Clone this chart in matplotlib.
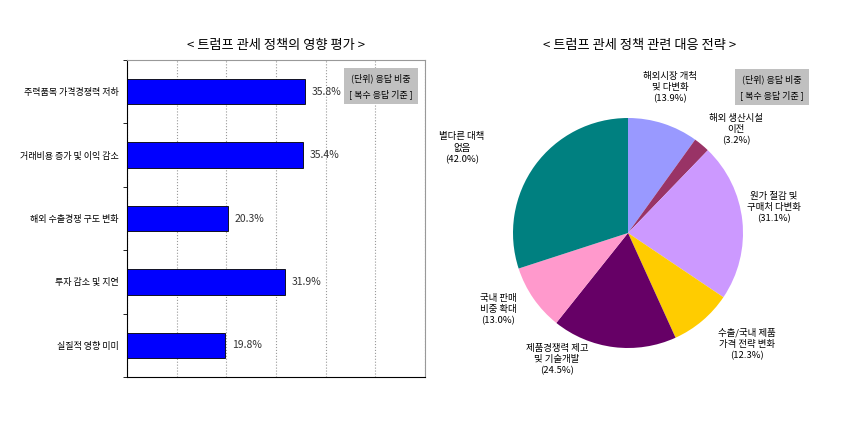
import matplotlib.pyplot as plt
import numpy as np

plt.rcParams["font.family"] = "Noto Sans CJK KR"

# left: impact of tariff policy
impact_labels = ["주력품목 가격경쟁력 저하", "거래비용 증가 및 이익 감소", "해외 수출경쟁 구도 변화",
                 "투자 감소 및 지연", "실질적 영향 미미"]
impact_values = [35.8, 35.4, 20.3, 31.9, 19.8]

# right: response strategies (multiple responses)
strategy_labels = ["해외시장 개척\n및 다변화", "해외 생산시설\n이전", "원가 절감 및\n구매처 다변화",
                   "수출/국내 제품\n가격 전략 변화", "제품경쟁력 제고\n및 기술개발", "국내 판매\n비중 확대",
                   "별다른 대책\n없음"]
strategy_values = [13.9, 3.2, 31.1, 12.3, 24.5, 13.0, 42.0]
strategy_colors = ["#9999FF", "#993366", "#CC99FF", "#FFCC00", "#660066", "#FF99CC", "#008080"]

fig = plt.figure(figsize=(8.53, 4.24), dpi=100)

ax = fig.add_axes([127/853, 47/424, 298/853, 317/424])
y = np.arange(len(impact_values))
ax.barh(y, impact_values, height=0.4, color="#0000FF", edgecolor="black", linewidth=0.6, zorder=3)
for yi, v in zip(y, impact_values):
    ax.text(v + 1.3, yi, f"{v}%", va="center", fontsize=7.5, color="#333333")
ax.set_yticks(y)
ax.set_yticklabels(impact_labels, fontsize=6.5)
ax.set_ylim(4.5, -0.5)
ax.set_yticks(np.arange(-0.5, 5, 1), minor=True)
ax.tick_params(axis="y", which="major", length=0, pad=6)
ax.tick_params(axis="y", which="minor", length=3)
ax.set_xlim(0, 60)
ax.set_xticks(np.arange(0, 61, 10))
ax.set_xticklabels([])
ax.tick_params(axis="x", length=0)
ax.grid(axis="x", linestyle=":", color="#999999", linewidth=0.8, zorder=0)
for s in ["top", "right"]:
    ax.spines[s].set_color("#999999")
ax.text(0.852, 0.918, "(단위) 응답 비중\n[ 복수 응답 기준 ]", transform=ax.transAxes, ha="center",
        va="center", fontsize=6.5, linespacing=1.8,
        bbox=dict(boxstyle="square,pad=0.6", fc="#C0C0C0", ec="none"))
fig.text(276/853, 1 - 46/424, "< 트럼프 관세 정책의 영향 평가 >", ha="center", va="center", fontsize=9.5)

pax = fig.add_axes([513/853, (424-348)/424, 230/853, 230/424])
pax.pie(strategy_values, colors=strategy_colors, startangle=90, counterclock=False, radius=1.0)
pax.set_xlim(-1, 1)
pax.set_ylim(-1, 1)
pax.set_aspect("equal")
fig.text(640/853, 1 - 46/424, "< 트럼프 관세 정책 관련 대응 전략 >", ha="center", va="center", fontsize=9.5)
fig.text(772/853, 1 - 87/424, "(단위) 응답 비중\n[ 복수 응답 기준 ]", ha="center", va="center",
         fontsize=6.5, linespacing=1.8, bbox=dict(boxstyle="square,pad=0.6", fc="#C0C0C0", ec="none"))

label_pos = [(670, 88), (736, 130), (774, 208), (747, 344), (557, 360), (498, 310), (462, 148)]
for (px, py), lab, v in zip(label_pos, strategy_labels, strategy_values):
    fig.text(px/853, 1 - py/424, f"{lab}\n({v}%)", ha="center", va="center", fontsize=6.8, linespacing=1.3)

fig.savefig("out.png", dpi=100)
